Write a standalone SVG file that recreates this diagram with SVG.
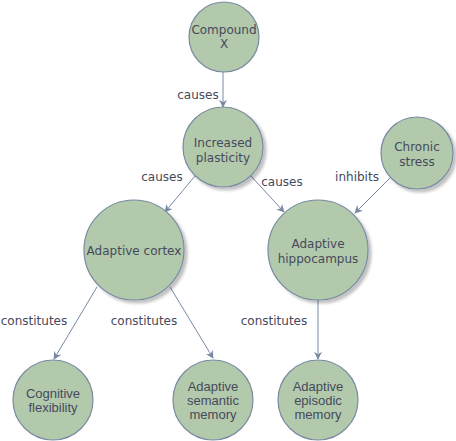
<svg xmlns="http://www.w3.org/2000/svg" width="456" height="441" viewBox="0 0 456 441">
<style>
.n{fill:#b2c9ab;stroke:#788aa3;stroke-width:1.2}
.t{font-family:"DejaVu Sans",Verdana,sans-serif;font-size:12px;fill:#46495d;text-anchor:middle}
.a{font-family:"Liberation Sans",Arial,sans-serif;font-size:13px;fill:#46495d;text-anchor:middle}
.l{font-family:"DejaVu Sans",Verdana,sans-serif;font-size:12px;fill:#46495d;text-anchor:middle}
.e{stroke:#788aa3;stroke-width:1;fill:none;marker-end:url(#arr)}
</style>
<defs>
<marker id="arr" viewBox="0 0 10 10" refX="9" refY="5" markerWidth="8" markerHeight="8" orient="auto" markerUnits="userSpaceOnUse">
<path d="M0,0 L10,5 L0,10 L3,5 Z" fill="#788aa3"/>
</marker>
<filter id="sh" x="-20%" y="-20%" width="150%" height="150%">
<feGaussianBlur in="SourceAlpha" stdDeviation="1.5"/>
<feOffset dx="3" dy="3" result="b"/>
<feComponentTransfer><feFuncA type="linear" slope="0.25"/></feComponentTransfer>
<feMerge><feMergeNode/><feMergeNode in="SourceGraphic"/></feMerge>
</filter>
</defs>
<rect width="456" height="441" fill="#ffffff"/>
<g id="connectors">
<line class="e" x1="223" y1="72" x2="223" y2="107"/>
<text class="l" x="198" y="99">causes</text>
<line class="e" x1="195" y1="176" x2="165" y2="212"/>
<text class="l" x="162" y="181">causes</text>
<line class="e" x1="251" y1="176" x2="284" y2="212"/>
<text class="l" x="282" y="186">causes</text>
<line class="e" x1="391" y1="177" x2="355" y2="213"/>
<text class="l" x="357" y="181">inhibits</text>
<line class="e" x1="97" y1="287" x2="54" y2="359"/>
<text class="l" x="34" y="325">constitutes</text>
<line class="e" x1="170" y1="287" x2="213" y2="358"/>
<text class="l" x="144" y="325">constitutes</text>
<line class="e" x1="318" y1="300" x2="318" y2="359"/>
<text class="l" x="274" y="325">constitutes</text>
</g>
<g id="compound-x">
<circle class="n" cx="224" cy="37" r="35"/>
<text class="t" x="224" y="34">Compound</text>
<text class="t" x="224" y="48">X</text>
</g>
<g id="increased-plasticity">
<circle class="n" cx="223" cy="147" r="40" filter="url(#sh)"/>
<text class="t" x="223" y="147">Increased</text>
<text class="t" x="223" y="162">plasticity</text>
</g>
<g id="chronic-stress">
<circle class="n" cx="417" cy="153" r="36" filter="url(#sh)"/>
<text class="t" x="417" y="151">Chronic</text>
<text class="t" x="417" y="166">stress</text>
</g>
<g id="adaptive-cortex">
<circle class="n" cx="134" cy="250" r="50" filter="url(#sh)"/>
<text class="t" x="134" y="255">Adaptive cortex</text>
</g>
<g id="adaptive-hippocampus">
<circle class="n" cx="318" cy="250" r="50" filter="url(#sh)"/>
<text class="t" x="318" y="248">Adaptive</text>
<text class="t" x="318" y="263">hippocampus</text>
</g>
<g id="cognitive-flexibility">
<circle class="n" cx="53" cy="400" r="40"/>
<text class="a" x="53" y="398">Cognitive</text>
<text class="a" x="53" y="412">flexibility</text>
</g>
<g id="adaptive-semantic-memory">
<circle class="n" cx="213" cy="400" r="40"/>
<text class="a" x="213" y="391">Adaptive</text>
<text class="a" x="213" y="405">semantic</text>
<text class="a" x="213" y="419">memory</text>
</g>
<g id="adaptive-episodic-memory">
<circle class="n" cx="318" cy="400" r="40"/>
<text class="a" x="318" y="391">Adaptive</text>
<text class="a" x="318" y="405">episodic</text>
<text class="a" x="318" y="419">memory</text>
</g>
</svg>
